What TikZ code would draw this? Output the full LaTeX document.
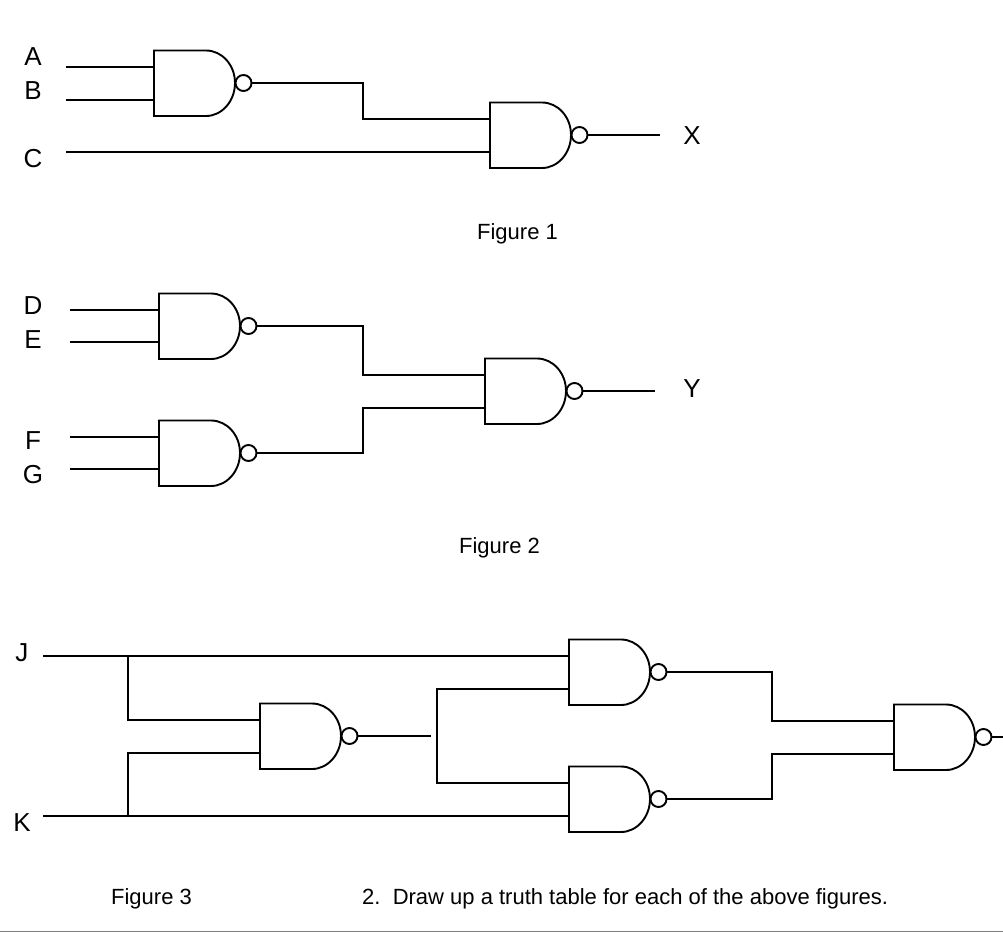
\documentclass[tikz,border=0pt]{standalone}
\usepackage{fontspec}
\setmainfont{Liberation Sans}
\usepackage{tikz}
\usetikzlibrary{calc}

\tikzset{
    nandgate/.pic={
        \draw[wire] (0,-0.5) -- (52,-0.5)
            .. controls (68,-0.5) and (81,14) .. (81,32)
            .. controls (81,50) and (68,65) .. (52,65)
            -- (0,65) -- cycle;
        \draw[wire] (89.5,32) circle[radius=8pt];
        \coordinate (-a) at (0,16);
        \coordinate (-b) at (0,49);
        \coordinate (-out) at (97.5,32);
    },
    wire/.style={line width=1.9pt},
    letter/.style={inner sep=0pt, font=\fontsize{26}{26}\selectfont},
    caption/.style={inner sep=0pt, font=\fontsize{22}{26}\selectfont}
}

\begin{document}
\begin{tikzpicture}[x=1pt,y=-1pt]
\useasboundingbox (0,0) rectangle (1003,933);

\node[letter] (A) at (33,56.5) {A};
\node[letter] (B) at (33,90.5) {B};
\node[letter] (C) at (33,158.5) {C};
\node[letter] (X) at (692,135.5) {X};
\node[caption] (fig1) at (517.5,234) {Figure 1};
\pic (g1) at (154,51) {nandgate};
\pic (g2) at (490,103) {nandgate};
\coordinate (Aend) at (66,67);
\coordinate (Bend) at (66,100);
\coordinate (Cend) at (66,152);
\coordinate (Xend) at (660,135);
\coordinate (bend1) at (363,100);
\draw[wire] (Aend) -- (g1-a);
\draw[wire] (Bend) -- (g1-b);
\draw[wire] (Cend) -- (g2-b);
\draw[wire] (g1-out) -| (bend1) |- (g2-a);
\draw[wire] (g2-out) -- (Xend);

\node[letter] (D) at (33,305.5) {D};
\node[letter] (E) at (33,339.5) {E};
\node[letter] (F) at (33,440.5) {F};
\node[letter] (G) at (33,474.5) {G};
\node[letter] (Y) at (692,388.5) {Y};
\node[caption] (fig2) at (499.5,548) {Figure 2};
\pic (g3) at (159,294) {nandgate};
\pic (g4) at (159,421) {nandgate};
\pic (g5) at (485,359) {nandgate};
\coordinate (Dend) at (70,310);
\coordinate (Eend) at (70,342);
\coordinate (Fend) at (70,437);
\coordinate (Gend) at (70,469);
\coordinate (Yend) at (655,391);
\coordinate (bend2) at (363,350);
\coordinate (bend3) at (363,430);
\draw[wire] (Dend) -- (Dend -| g3-a);
\draw[wire] (Eend) -- (Eend -| g3-b);
\draw[wire] (Fend) -- (Fend -| g4-a);
\draw[wire] (Gend) -- (Gend -| g4-b);
\draw[wire] (g3-out) -| (bend2) |- (g5-a);
\draw[wire] (g4-out) -| (bend3) |- (g5-b);
\draw[wire] (g5-out) -- (Yend);

\node[letter] (J) at (22,652.5) {J};
\node[letter] (K) at (22,822.5) {K};
\node[caption] (fig3) at (151.5,899) {Figure 3};
\node[caption,anchor=west] (task) at (362,899) {2.\ \ Draw up a truth table for each of the above figures.};
\pic (g6) at (260,704) {nandgate};
\pic (g7) at (569,640) {nandgate};
\pic (g8) at (569,767) {nandgate};
\pic (g9) at (894,705) {nandgate};
\coordinate (Jend) at (43,656);
\coordinate (Kend) at (43,816);
\coordinate (Jtap) at (128,656);
\coordinate (Ktap) at (128,816);
\coordinate (midend) at (431,736);
\coordinate (split) at (437,736);
\coordinate (bend4) at (772,690);
\coordinate (bend5) at (772,780);
\coordinate (lastend) at (1003,737);
\draw[wire] (Jend) -- (g7-a);
\draw[wire] (Kend) -- (g8-b);
\draw[wire] (Jtap) |- (g6-a);
\draw[wire] (Ktap) |- (g6-b);
\draw[wire] (g6-out) -- (midend);
\draw[wire] (g7-b) -| (split) |- (g8-a);
\draw[wire] (g7-out) -| (bend4) |- (g9-a);
\draw[wire] (g8-out) -| (bend5) |- (g9-b);
\draw[wire] (g9-out) -- (lastend);

\coordinate (ruleleft) at (0,931.5);
\coordinate (ruleright) at (1003,931.5);
\draw[line width=1pt,black!50] (ruleleft) -- (ruleright);
\end{tikzpicture}
\end{document}
